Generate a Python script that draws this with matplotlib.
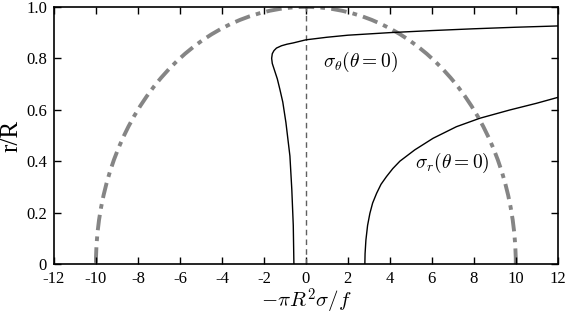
import matplotlib
matplotlib.use("Agg")
import matplotlib.pyplot as plt
from matplotlib.patches import Arc

### values
sigma_theta_x = [-0.57, -0.60, -0.67, -0.76, -0.95, -1.10, -1.24, -1.36, -1.50, -1.60, -1.63,
                 -1.60, -1.52, -1.40, -1.16, -0.90, -0.60, 0.0, 1.0, 2.0, 4.0, 6.0, 8.0, 10.0, 12.0]
sigma_theta_y = [0.0, 0.15, 0.29, 0.42, 0.55, 0.63, 0.68, 0.72, 0.755, 0.78, 0.80,
                 0.818, 0.830, 0.840, 0.849, 0.855, 0.860, 0.872, 0.882, 0.890, 0.900, 0.908, 0.915, 0.921, 0.926]

sigma_r_x = [2.81, 2.82, 2.86, 2.94, 3.05, 3.18, 3.37, 3.58, 3.84, 4.14, 4.48, 5.19, 6.06, 7.17,
             8.29, 9.71, 10.98, 12.0]
sigma_r_y = [0.0, 0.04, 0.093, 0.15, 0.197, 0.237, 0.275, 0.31, 0.34, 0.371, 0.40, 0.444, 0.489, 0.534,
             0.567, 0.599, 0.625, 0.648]

circle_radius = 10.0   # half width of the dash-dot semi-ellipse (x units)
circle_height = 1.0    # its height (r/R units)

x_ticks = list(range(-12, 13, 2))
y_ticks = [0, 0.2, 0.4, 0.6, 0.8, 1.0]
y_ticklabels = ["0", "0.2", "0.4", "0.6", "0.8", "1.0"]

### style
plt.rcParams["font.family"] = ["Liberation Serif", "DejaVu Serif"]
plt.rcParams["mathtext.fontset"] = "cm"
plt.rcParams["axes.unicode_minus"] = False

fig = plt.figure(figsize=(5.68, 3.15), dpi=100)
ax = fig.add_axes([0.095, 0.162, 0.887, 0.816])

ax.add_patch(Arc((0, 0), 2 * circle_radius, 2 * circle_height, theta1=0, theta2=180,
                 color="#858585", lw=2.8, linestyle=(0, (4, 1.6, 1.2, 1.6))))
ax.plot([0, 0], [0, 1], color="#606060", lw=1.0, linestyle=(0, (4, 3)))
ax.plot(sigma_theta_x, sigma_theta_y, color="black", lw=1.0)
ax.plot(sigma_r_x, sigma_r_y, color="black", lw=1.0)

ax.text(0.8, 0.786, r"$\sigma_\theta(\theta=0)$", fontsize=14, va="center", ha="left")
ax.text(5.2, 0.393, r"$\sigma_r(\theta=0)$", fontsize=14, va="center", ha="left")

ax.set_xlim(-12, 12)
ax.set_ylim(0, 1)
ax.set_xticks(x_ticks)
ax.set_xticklabels([str(t) for t in x_ticks])
ax.set_yticks(y_ticks)
ax.set_yticklabels(y_ticklabels)
ax.tick_params(direction="in", top=True, right=True, length=5, width=1.0, labelsize=12)
ax.tick_params(axis="x", pad=5)
ax.tick_params(axis="y", pad=5)
for sp in ax.spines.values():
    sp.set_linewidth(1.2)

ax.set_xlabel(r"$-\pi R^2\sigma/f$", fontsize=15)
ax.xaxis.set_label_coords(0.5, -0.09)
ax.set_ylabel("r/R", fontsize=18, labelpad=3)

fig.savefig("out.png", dpi=100)
